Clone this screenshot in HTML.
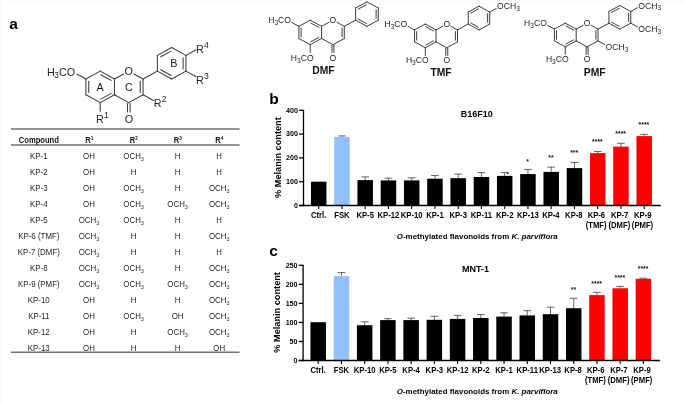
<!DOCTYPE html>
<html><head><meta charset="utf-8"><style>
html,body{margin:0;padding:0;background:#fff;}
body{width:685px;height:403px;overflow:hidden;}
svg{display:block;}
</style></head><body>
<svg width="685" height="403" viewBox="0 0 685 403" font-family="'Liberation Sans', Arial, sans-serif">
<rect width="685" height="403" fill="#fff"/>
<rect x="0" y="0" width="685" height="1" fill="#f9f9f9"/><rect x="0" y="0" width="1" height="403" fill="#f9f9f9"/>
<text x="9.30" y="29.00" font-size="15.5" font-weight="bold" fill="#000" >a</text>
<text x="269.30" y="104.40" font-size="15.5" font-weight="bold" fill="#000" >b</text>
<text x="269.30" y="256.10" font-size="15.5" font-weight="bold" fill="#000" >c</text>
<line x1="100.20" y1="71.15" x2="114.49" y2="79.03" stroke="#3c3c3c" stroke-width="1.05" fill="none" stroke-linecap="round"/>
<line x1="114.49" y1="79.03" x2="114.49" y2="94.78" stroke="#3c3c3c" stroke-width="1.05" fill="none" stroke-linecap="round"/>
<line x1="114.49" y1="94.78" x2="100.20" y2="102.65" stroke="#3c3c3c" stroke-width="1.05" fill="none" stroke-linecap="round"/>
<line x1="100.20" y1="102.65" x2="85.91" y2="94.78" stroke="#3c3c3c" stroke-width="1.05" fill="none" stroke-linecap="round"/>
<line x1="85.91" y1="94.78" x2="85.91" y2="79.03" stroke="#3c3c3c" stroke-width="1.05" fill="none" stroke-linecap="round"/>
<line x1="85.91" y1="79.03" x2="100.20" y2="71.15" stroke="#3c3c3c" stroke-width="1.05" fill="none" stroke-linecap="round"/>
<line x1="100.82" y1="74.71" x2="111.15" y2="80.41" stroke="#3c3c3c" stroke-width="1.05" fill="none" stroke-linecap="round"/>
<line x1="111.15" y1="93.39" x2="100.82" y2="99.09" stroke="#3c3c3c" stroke-width="1.05" fill="none" stroke-linecap="round"/>
<line x1="88.73" y1="92.52" x2="88.73" y2="81.28" stroke="#3c3c3c" stroke-width="1.05" fill="none" stroke-linecap="round"/>
<line x1="114.49" y1="79.03" x2="123.63" y2="73.98" stroke="#3c3c3c" stroke-width="1.05" fill="none" stroke-linecap="round"/>
<line x1="133.92" y1="73.98" x2="143.07" y2="79.03" stroke="#3c3c3c" stroke-width="1.05" fill="none" stroke-linecap="round"/>
<line x1="143.07" y1="79.03" x2="143.07" y2="94.78" stroke="#3c3c3c" stroke-width="1.05" fill="none" stroke-linecap="round"/>
<line x1="143.07" y1="94.78" x2="128.78" y2="102.65" stroke="#3c3c3c" stroke-width="1.05" fill="none" stroke-linecap="round"/>
<line x1="128.78" y1="102.65" x2="114.49" y2="94.78" stroke="#3c3c3c" stroke-width="1.05" fill="none" stroke-linecap="round"/>
<line x1="140.25" y1="81.28" x2="140.25" y2="92.52" stroke="#3c3c3c" stroke-width="1.05" fill="none" stroke-linecap="round"/>
<line x1="143.07" y1="79.03" x2="157.36" y2="71.15" stroke="#3c3c3c" stroke-width="1.05" fill="none" stroke-linecap="round"/>
<line x1="171.65" y1="47.53" x2="185.94" y2="55.40" stroke="#3c3c3c" stroke-width="1.05" fill="none" stroke-linecap="round"/>
<line x1="185.94" y1="55.40" x2="185.94" y2="71.15" stroke="#3c3c3c" stroke-width="1.05" fill="none" stroke-linecap="round"/>
<line x1="185.94" y1="71.15" x2="171.65" y2="79.03" stroke="#3c3c3c" stroke-width="1.05" fill="none" stroke-linecap="round"/>
<line x1="171.65" y1="79.03" x2="157.36" y2="71.15" stroke="#3c3c3c" stroke-width="1.05" fill="none" stroke-linecap="round"/>
<line x1="157.36" y1="71.15" x2="157.36" y2="55.40" stroke="#3c3c3c" stroke-width="1.05" fill="none" stroke-linecap="round"/>
<line x1="157.36" y1="55.40" x2="171.65" y2="47.53" stroke="#3c3c3c" stroke-width="1.05" fill="none" stroke-linecap="round"/>
<line x1="160.70" y1="56.78" x2="171.03" y2="51.09" stroke="#3c3c3c" stroke-width="1.05" fill="none" stroke-linecap="round"/>
<line x1="183.11" y1="57.66" x2="183.11" y2="68.89" stroke="#3c3c3c" stroke-width="1.05" fill="none" stroke-linecap="round"/>
<line x1="171.03" y1="75.46" x2="160.70" y2="69.77" stroke="#3c3c3c" stroke-width="1.05" fill="none" stroke-linecap="round"/>
<line x1="85.91" y1="79.03" x2="76.91" y2="74.06" stroke="#3c3c3c" stroke-width="1.05" fill="none" stroke-linecap="round"/>
<line x1="100.20" y1="102.65" x2="100.20" y2="111.25" stroke="#3c3c3c" stroke-width="1.05" fill="none" stroke-linecap="round"/>
<line x1="127.48" y1="103.55" x2="127.48" y2="111.95" stroke="#3c3c3c" stroke-width="1.05" fill="none" stroke-linecap="round"/>
<line x1="130.08" y1="103.55" x2="130.08" y2="111.95" stroke="#3c3c3c" stroke-width="1.05" fill="none" stroke-linecap="round"/>
<line x1="143.07" y1="94.78" x2="153.36" y2="100.45" stroke="#3c3c3c" stroke-width="1.05" fill="none" stroke-linecap="round"/>
<line x1="185.94" y1="55.40" x2="195.80" y2="49.97" stroke="#3c3c3c" stroke-width="1.05" fill="none" stroke-linecap="round"/>
<line x1="185.94" y1="71.15" x2="195.80" y2="76.58" stroke="#3c3c3c" stroke-width="1.05" fill="none" stroke-linecap="round"/>
<text x="46.90" y="76.00" font-size="10.8" fill="#1e1e1e">H<tspan font-size="8.21" dx="-0.4" dy="2.05">3</tspan><tspan dy="-2.05">CO</tspan></text>
<text x="96.10" y="123.00" font-size="10.8" fill="#1e1e1e">R<tspan font-size="8.64" dx="0.1" dy="-5.08">1</tspan></text>
<text x="128.78" y="75.20" font-size="10.8" text-anchor="middle" fill="#1a1a1a" >O</text>
<text x="129.00" y="123.00" font-size="10.8" text-anchor="middle" fill="#1a1a1a" >O</text>
<text x="153.80" y="107.20" font-size="10.8" fill="#1e1e1e">R<tspan font-size="8.64" dx="0.1" dy="-5.08">2</tspan></text>
<text x="196.10" y="52.90" font-size="10.8" fill="#1e1e1e">R<tspan font-size="8.64" dx="0.1" dy="-5.08">4</tspan></text>
<text x="196.10" y="84.20" font-size="10.8" fill="#1e1e1e">R<tspan font-size="8.64" dx="0.1" dy="-5.08">3</tspan></text>
<text x="100.10" y="90.90" font-size="10.8" text-anchor="middle" fill="#1a1a1a" >A</text>
<text x="129.00" y="90.90" font-size="10.8" text-anchor="middle" fill="#1a1a1a" >C</text>
<text x="173.90" y="67.20" font-size="10.8" text-anchor="middle" fill="#1a1a1a" >B</text>
<line x1="11.00" y1="129.00" x2="239.50" y2="129.00" stroke="#707070" stroke-width="1.5"/>
<line x1="11.00" y1="144.90" x2="239.50" y2="144.90" stroke="#707070" stroke-width="1.5"/>
<line x1="11.00" y1="352.30" x2="239.50" y2="352.30" stroke="#707070" stroke-width="1.5"/>
<text transform="translate(38.80,142.60) scale(1.0,1.1)" font-size="7.6" font-weight="bold" text-anchor="middle" fill="#111" >Compound</text>
<text transform="translate(89.20,142.6) scale(1,1.1)" font-size="7.6" font-weight="bold" text-anchor="middle" fill="#111">R<tspan font-size="4.71" dy="-2.3">1</tspan></text>
<text transform="translate(133.80,142.6) scale(1,1.1)" font-size="7.6" font-weight="bold" text-anchor="middle" fill="#111">R<tspan font-size="4.71" dy="-2.3">2</tspan></text>
<text transform="translate(177.80,142.6) scale(1,1.1)" font-size="7.6" font-weight="bold" text-anchor="middle" fill="#111">R<tspan font-size="4.71" dy="-2.3">3</tspan></text>
<text transform="translate(219.40,142.6) scale(1,1.1)" font-size="7.6" font-weight="bold" text-anchor="middle" fill="#111">R<tspan font-size="4.71" dy="-2.3">4</tspan></text>
<text transform="translate(38.80,159.10) scale(1.0,1.12)" font-size="7.9" text-anchor="middle" fill="#1e1e1e" >KP-1</text>
<text transform="translate(89.00,159.10) scale(1.0,1.12)" font-size="7.9" text-anchor="middle" fill="#1e1e1e" >OH</text>
<text transform="translate(133.60,159.10) scale(1,1.12)" font-size="7.9" text-anchor="middle" fill="#1e1e1e">OCH<tspan font-size="5.53" dy="1.8">3</tspan></text>
<text transform="translate(177.60,159.10) scale(1.0,1.12)" font-size="7.9" text-anchor="middle" fill="#1e1e1e" >H</text>
<text transform="translate(219.20,159.10) scale(1.0,1.12)" font-size="7.9" text-anchor="middle" fill="#1e1e1e" >H</text>
<text transform="translate(38.80,175.07) scale(1.0,1.12)" font-size="7.9" text-anchor="middle" fill="#1e1e1e" >KP-2</text>
<text transform="translate(89.00,175.07) scale(1.0,1.12)" font-size="7.9" text-anchor="middle" fill="#1e1e1e" >OH</text>
<text transform="translate(133.60,175.07) scale(1.0,1.12)" font-size="7.9" text-anchor="middle" fill="#1e1e1e" >H</text>
<text transform="translate(177.60,175.07) scale(1.0,1.12)" font-size="7.9" text-anchor="middle" fill="#1e1e1e" >H</text>
<text transform="translate(219.20,175.07) scale(1.0,1.12)" font-size="7.9" text-anchor="middle" fill="#1e1e1e" >H</text>
<text transform="translate(38.80,191.04) scale(1.0,1.12)" font-size="7.9" text-anchor="middle" fill="#1e1e1e" >KP-3</text>
<text transform="translate(89.00,191.04) scale(1.0,1.12)" font-size="7.9" text-anchor="middle" fill="#1e1e1e" >OH</text>
<text transform="translate(133.60,191.04) scale(1,1.12)" font-size="7.9" text-anchor="middle" fill="#1e1e1e">OCH<tspan font-size="5.53" dy="1.8">3</tspan></text>
<text transform="translate(177.60,191.04) scale(1.0,1.12)" font-size="7.9" text-anchor="middle" fill="#1e1e1e" >H</text>
<text transform="translate(219.20,191.04) scale(1,1.12)" font-size="7.9" text-anchor="middle" fill="#1e1e1e">OCH<tspan font-size="5.53" dy="1.8">3</tspan></text>
<text transform="translate(38.80,207.01) scale(1.0,1.12)" font-size="7.9" text-anchor="middle" fill="#1e1e1e" >KP-4</text>
<text transform="translate(89.00,207.01) scale(1.0,1.12)" font-size="7.9" text-anchor="middle" fill="#1e1e1e" >OH</text>
<text transform="translate(133.60,207.01) scale(1,1.12)" font-size="7.9" text-anchor="middle" fill="#1e1e1e">OCH<tspan font-size="5.53" dy="1.8">3</tspan></text>
<text transform="translate(177.60,207.01) scale(1,1.12)" font-size="7.9" text-anchor="middle" fill="#1e1e1e">OCH<tspan font-size="5.53" dy="1.8">3</tspan></text>
<text transform="translate(219.20,207.01) scale(1,1.12)" font-size="7.9" text-anchor="middle" fill="#1e1e1e">OCH<tspan font-size="5.53" dy="1.8">3</tspan></text>
<text transform="translate(38.80,222.98) scale(1.0,1.12)" font-size="7.9" text-anchor="middle" fill="#1e1e1e" >KP-5</text>
<text transform="translate(89.00,222.98) scale(1,1.12)" font-size="7.9" text-anchor="middle" fill="#1e1e1e">OCH<tspan font-size="5.53" dy="1.8">3</tspan></text>
<text transform="translate(133.60,222.98) scale(1,1.12)" font-size="7.9" text-anchor="middle" fill="#1e1e1e">OCH<tspan font-size="5.53" dy="1.8">3</tspan></text>
<text transform="translate(177.60,222.98) scale(1.0,1.12)" font-size="7.9" text-anchor="middle" fill="#1e1e1e" >H</text>
<text transform="translate(219.20,222.98) scale(1.0,1.12)" font-size="7.9" text-anchor="middle" fill="#1e1e1e" >H</text>
<text transform="translate(38.80,238.95) scale(1.0,1.12)" font-size="7.9" text-anchor="middle" fill="#1e1e1e" >KP-6 (TMF)</text>
<text transform="translate(89.00,238.95) scale(1,1.12)" font-size="7.9" text-anchor="middle" fill="#1e1e1e">OCH<tspan font-size="5.53" dy="1.8">3</tspan></text>
<text transform="translate(133.60,238.95) scale(1.0,1.12)" font-size="7.9" text-anchor="middle" fill="#1e1e1e" >H</text>
<text transform="translate(177.60,238.95) scale(1.0,1.12)" font-size="7.9" text-anchor="middle" fill="#1e1e1e" >H</text>
<text transform="translate(219.20,238.95) scale(1,1.12)" font-size="7.9" text-anchor="middle" fill="#1e1e1e">OCH<tspan font-size="5.53" dy="1.8">3</tspan></text>
<text transform="translate(38.80,254.92) scale(1.0,1.12)" font-size="7.9" text-anchor="middle" fill="#1e1e1e" >KP-7 (DMF)</text>
<text transform="translate(89.00,254.92) scale(1,1.12)" font-size="7.9" text-anchor="middle" fill="#1e1e1e">OCH<tspan font-size="5.53" dy="1.8">3</tspan></text>
<text transform="translate(133.60,254.92) scale(1.0,1.12)" font-size="7.9" text-anchor="middle" fill="#1e1e1e" >H</text>
<text transform="translate(177.60,254.92) scale(1.0,1.12)" font-size="7.9" text-anchor="middle" fill="#1e1e1e" >H</text>
<text transform="translate(219.20,254.92) scale(1.0,1.12)" font-size="7.9" text-anchor="middle" fill="#1e1e1e" >H</text>
<text transform="translate(38.80,270.89) scale(1.0,1.12)" font-size="7.9" text-anchor="middle" fill="#1e1e1e" >KP-8</text>
<text transform="translate(89.00,270.89) scale(1,1.12)" font-size="7.9" text-anchor="middle" fill="#1e1e1e">OCH<tspan font-size="5.53" dy="1.8">3</tspan></text>
<text transform="translate(133.60,270.89) scale(1,1.12)" font-size="7.9" text-anchor="middle" fill="#1e1e1e">OCH<tspan font-size="5.53" dy="1.8">3</tspan></text>
<text transform="translate(177.60,270.89) scale(1.0,1.12)" font-size="7.9" text-anchor="middle" fill="#1e1e1e" >H</text>
<text transform="translate(219.20,270.89) scale(1,1.12)" font-size="7.9" text-anchor="middle" fill="#1e1e1e">OCH<tspan font-size="5.53" dy="1.8">3</tspan></text>
<text transform="translate(38.80,286.86) scale(1.0,1.12)" font-size="7.9" text-anchor="middle" fill="#1e1e1e" >KP-9 (PMF)</text>
<text transform="translate(89.00,286.86) scale(1,1.12)" font-size="7.9" text-anchor="middle" fill="#1e1e1e">OCH<tspan font-size="5.53" dy="1.8">3</tspan></text>
<text transform="translate(133.60,286.86) scale(1,1.12)" font-size="7.9" text-anchor="middle" fill="#1e1e1e">OCH<tspan font-size="5.53" dy="1.8">3</tspan></text>
<text transform="translate(177.60,286.86) scale(1,1.12)" font-size="7.9" text-anchor="middle" fill="#1e1e1e">OCH<tspan font-size="5.53" dy="1.8">3</tspan></text>
<text transform="translate(219.20,286.86) scale(1,1.12)" font-size="7.9" text-anchor="middle" fill="#1e1e1e">OCH<tspan font-size="5.53" dy="1.8">3</tspan></text>
<text transform="translate(38.80,302.83) scale(1.0,1.12)" font-size="7.9" text-anchor="middle" fill="#1e1e1e" >KP-10</text>
<text transform="translate(89.00,302.83) scale(1.0,1.12)" font-size="7.9" text-anchor="middle" fill="#1e1e1e" >OH</text>
<text transform="translate(133.60,302.83) scale(1.0,1.12)" font-size="7.9" text-anchor="middle" fill="#1e1e1e" >H</text>
<text transform="translate(177.60,302.83) scale(1.0,1.12)" font-size="7.9" text-anchor="middle" fill="#1e1e1e" >H</text>
<text transform="translate(219.20,302.83) scale(1,1.12)" font-size="7.9" text-anchor="middle" fill="#1e1e1e">OCH<tspan font-size="5.53" dy="1.8">3</tspan></text>
<text transform="translate(38.80,318.80) scale(1.0,1.12)" font-size="7.9" text-anchor="middle" fill="#1e1e1e" >KP-11</text>
<text transform="translate(89.00,318.80) scale(1.0,1.12)" font-size="7.9" text-anchor="middle" fill="#1e1e1e" >OH</text>
<text transform="translate(133.60,318.80) scale(1,1.12)" font-size="7.9" text-anchor="middle" fill="#1e1e1e">OCH<tspan font-size="5.53" dy="1.8">3</tspan></text>
<text transform="translate(177.60,318.80) scale(1.0,1.12)" font-size="7.9" text-anchor="middle" fill="#1e1e1e" >OH</text>
<text transform="translate(219.20,318.80) scale(1,1.12)" font-size="7.9" text-anchor="middle" fill="#1e1e1e">OCH<tspan font-size="5.53" dy="1.8">3</tspan></text>
<text transform="translate(38.80,334.77) scale(1.0,1.12)" font-size="7.9" text-anchor="middle" fill="#1e1e1e" >KP-12</text>
<text transform="translate(89.00,334.77) scale(1.0,1.12)" font-size="7.9" text-anchor="middle" fill="#1e1e1e" >OH</text>
<text transform="translate(133.60,334.77) scale(1.0,1.12)" font-size="7.9" text-anchor="middle" fill="#1e1e1e" >H</text>
<text transform="translate(177.60,334.77) scale(1,1.12)" font-size="7.9" text-anchor="middle" fill="#1e1e1e">OCH<tspan font-size="5.53" dy="1.8">3</tspan></text>
<text transform="translate(219.20,334.77) scale(1,1.12)" font-size="7.9" text-anchor="middle" fill="#1e1e1e">OCH<tspan font-size="5.53" dy="1.8">3</tspan></text>
<text transform="translate(38.80,350.74) scale(1.0,1.12)" font-size="7.9" text-anchor="middle" fill="#1e1e1e" >KP-13</text>
<text transform="translate(89.00,350.74) scale(1.0,1.12)" font-size="7.9" text-anchor="middle" fill="#1e1e1e" >OH</text>
<text transform="translate(133.60,350.74) scale(1.0,1.12)" font-size="7.9" text-anchor="middle" fill="#1e1e1e" >H</text>
<text transform="translate(177.60,350.74) scale(1.0,1.12)" font-size="7.9" text-anchor="middle" fill="#1e1e1e" >H</text>
<text transform="translate(219.20,350.74) scale(1.0,1.12)" font-size="7.9" text-anchor="middle" fill="#1e1e1e" >OH</text>
<line x1="310.25" y1="20.20" x2="321.59" y2="26.30" stroke="#3c3c3c" stroke-width="1.0" fill="none" stroke-linecap="round"/>
<line x1="321.59" y1="26.30" x2="321.59" y2="38.50" stroke="#3c3c3c" stroke-width="1.0" fill="none" stroke-linecap="round"/>
<line x1="321.59" y1="38.50" x2="310.25" y2="44.60" stroke="#3c3c3c" stroke-width="1.0" fill="none" stroke-linecap="round"/>
<line x1="310.25" y1="44.60" x2="298.91" y2="38.50" stroke="#3c3c3c" stroke-width="1.0" fill="none" stroke-linecap="round"/>
<line x1="298.91" y1="38.50" x2="298.91" y2="26.30" stroke="#3c3c3c" stroke-width="1.0" fill="none" stroke-linecap="round"/>
<line x1="298.91" y1="26.30" x2="310.25" y2="20.20" stroke="#3c3c3c" stroke-width="1.0" fill="none" stroke-linecap="round"/>
<line x1="310.76" y1="22.99" x2="318.99" y2="27.41" stroke="#3c3c3c" stroke-width="1.0" fill="none" stroke-linecap="round"/>
<line x1="318.99" y1="37.39" x2="310.76" y2="41.81" stroke="#3c3c3c" stroke-width="1.0" fill="none" stroke-linecap="round"/>
<line x1="301.12" y1="36.73" x2="301.12" y2="28.07" stroke="#3c3c3c" stroke-width="1.0" fill="none" stroke-linecap="round"/>
<line x1="321.59" y1="26.30" x2="328.86" y2="22.40" stroke="#3c3c3c" stroke-width="1.0" fill="none" stroke-linecap="round"/>
<line x1="337.02" y1="22.40" x2="344.28" y2="26.30" stroke="#3c3c3c" stroke-width="1.0" fill="none" stroke-linecap="round"/>
<line x1="344.28" y1="26.30" x2="344.28" y2="38.50" stroke="#3c3c3c" stroke-width="1.0" fill="none" stroke-linecap="round"/>
<line x1="344.28" y1="38.50" x2="332.94" y2="44.60" stroke="#3c3c3c" stroke-width="1.0" fill="none" stroke-linecap="round"/>
<line x1="332.94" y1="44.60" x2="321.59" y2="38.50" stroke="#3c3c3c" stroke-width="1.0" fill="none" stroke-linecap="round"/>
<line x1="342.07" y1="28.07" x2="342.07" y2="36.73" stroke="#3c3c3c" stroke-width="1.0" fill="none" stroke-linecap="round"/>
<line x1="344.28" y1="26.30" x2="355.63" y2="20.20" stroke="#3c3c3c" stroke-width="1.0" fill="none" stroke-linecap="round"/>
<line x1="366.97" y1="1.90" x2="378.32" y2="8.00" stroke="#3c3c3c" stroke-width="1.0" fill="none" stroke-linecap="round"/>
<line x1="378.32" y1="8.00" x2="378.32" y2="20.20" stroke="#3c3c3c" stroke-width="1.0" fill="none" stroke-linecap="round"/>
<line x1="378.32" y1="20.20" x2="366.97" y2="26.30" stroke="#3c3c3c" stroke-width="1.0" fill="none" stroke-linecap="round"/>
<line x1="366.97" y1="26.30" x2="355.63" y2="20.20" stroke="#3c3c3c" stroke-width="1.0" fill="none" stroke-linecap="round"/>
<line x1="355.63" y1="20.20" x2="355.63" y2="8.00" stroke="#3c3c3c" stroke-width="1.0" fill="none" stroke-linecap="round"/>
<line x1="355.63" y1="8.00" x2="366.97" y2="1.90" stroke="#3c3c3c" stroke-width="1.0" fill="none" stroke-linecap="round"/>
<line x1="358.24" y1="9.11" x2="366.46" y2="4.69" stroke="#3c3c3c" stroke-width="1.0" fill="none" stroke-linecap="round"/>
<line x1="376.11" y1="9.77" x2="376.11" y2="18.43" stroke="#3c3c3c" stroke-width="1.0" fill="none" stroke-linecap="round"/>
<line x1="366.46" y1="23.51" x2="358.24" y2="19.09" stroke="#3c3c3c" stroke-width="1.0" fill="none" stroke-linecap="round"/>
<line x1="298.91" y1="26.30" x2="291.87" y2="22.52" stroke="#3c3c3c" stroke-width="1.0" fill="none" stroke-linecap="round"/>
<text x="290.91" y="23.28" font-size="8.6" text-anchor="end" fill="#1e1e1e">H<tspan font-size="6.54" dy="1.63">3</tspan><tspan dy="-1.63">CO</tspan></text>
<line x1="310.25" y1="44.60" x2="310.25" y2="52.41" stroke="#3c3c3c" stroke-width="1.0" fill="none" stroke-linecap="round"/>
<text x="313.60" y="60.88" font-size="8.6" text-anchor="end" fill="#1e1e1e">H<tspan font-size="6.54" dy="1.63">3</tspan><tspan dy="-1.63">CO</tspan></text>
<line x1="331.94" y1="45.20" x2="331.94" y2="52.41" stroke="#3c3c3c" stroke-width="1.0" fill="none" stroke-linecap="round"/>
<line x1="333.94" y1="45.20" x2="333.94" y2="52.41" stroke="#3c3c3c" stroke-width="1.0" fill="none" stroke-linecap="round"/>
<text x="332.94" y="60.88" font-size="8.6" text-anchor="middle" fill="#1a1a1a" >O</text>
<text x="332.94" y="23.28" font-size="8.6" text-anchor="middle" fill="#1a1a1a" >O</text>
<line x1="425.30" y1="24.00" x2="436.04" y2="29.95" stroke="#3c3c3c" stroke-width="1.0" fill="none" stroke-linecap="round"/>
<line x1="436.04" y1="29.95" x2="436.04" y2="41.85" stroke="#3c3c3c" stroke-width="1.0" fill="none" stroke-linecap="round"/>
<line x1="436.04" y1="41.85" x2="425.30" y2="47.80" stroke="#3c3c3c" stroke-width="1.0" fill="none" stroke-linecap="round"/>
<line x1="425.30" y1="47.80" x2="414.56" y2="41.85" stroke="#3c3c3c" stroke-width="1.0" fill="none" stroke-linecap="round"/>
<line x1="414.56" y1="41.85" x2="414.56" y2="29.95" stroke="#3c3c3c" stroke-width="1.0" fill="none" stroke-linecap="round"/>
<line x1="414.56" y1="29.95" x2="425.30" y2="24.00" stroke="#3c3c3c" stroke-width="1.0" fill="none" stroke-linecap="round"/>
<line x1="425.76" y1="26.68" x2="433.52" y2="30.99" stroke="#3c3c3c" stroke-width="1.0" fill="none" stroke-linecap="round"/>
<line x1="433.52" y1="40.81" x2="425.76" y2="45.12" stroke="#3c3c3c" stroke-width="1.0" fill="none" stroke-linecap="round"/>
<line x1="416.69" y1="40.15" x2="416.69" y2="31.65" stroke="#3c3c3c" stroke-width="1.0" fill="none" stroke-linecap="round"/>
<line x1="436.04" y1="29.95" x2="442.91" y2="26.14" stroke="#3c3c3c" stroke-width="1.0" fill="none" stroke-linecap="round"/>
<line x1="450.64" y1="26.14" x2="457.52" y2="29.95" stroke="#3c3c3c" stroke-width="1.0" fill="none" stroke-linecap="round"/>
<line x1="457.52" y1="29.95" x2="457.52" y2="41.85" stroke="#3c3c3c" stroke-width="1.0" fill="none" stroke-linecap="round"/>
<line x1="457.52" y1="41.85" x2="446.78" y2="47.80" stroke="#3c3c3c" stroke-width="1.0" fill="none" stroke-linecap="round"/>
<line x1="446.78" y1="47.80" x2="436.04" y2="41.85" stroke="#3c3c3c" stroke-width="1.0" fill="none" stroke-linecap="round"/>
<line x1="455.39" y1="31.65" x2="455.39" y2="40.15" stroke="#3c3c3c" stroke-width="1.0" fill="none" stroke-linecap="round"/>
<line x1="457.52" y1="29.95" x2="468.25" y2="24.00" stroke="#3c3c3c" stroke-width="1.0" fill="none" stroke-linecap="round"/>
<line x1="478.99" y1="6.15" x2="489.73" y2="12.10" stroke="#3c3c3c" stroke-width="1.0" fill="none" stroke-linecap="round"/>
<line x1="489.73" y1="12.10" x2="489.73" y2="24.00" stroke="#3c3c3c" stroke-width="1.0" fill="none" stroke-linecap="round"/>
<line x1="489.73" y1="24.00" x2="478.99" y2="29.95" stroke="#3c3c3c" stroke-width="1.0" fill="none" stroke-linecap="round"/>
<line x1="478.99" y1="29.95" x2="468.25" y2="24.00" stroke="#3c3c3c" stroke-width="1.0" fill="none" stroke-linecap="round"/>
<line x1="468.25" y1="24.00" x2="468.25" y2="12.10" stroke="#3c3c3c" stroke-width="1.0" fill="none" stroke-linecap="round"/>
<line x1="468.25" y1="12.10" x2="478.99" y2="6.15" stroke="#3c3c3c" stroke-width="1.0" fill="none" stroke-linecap="round"/>
<line x1="470.77" y1="13.14" x2="478.54" y2="8.83" stroke="#3c3c3c" stroke-width="1.0" fill="none" stroke-linecap="round"/>
<line x1="487.61" y1="13.80" x2="487.61" y2="22.30" stroke="#3c3c3c" stroke-width="1.0" fill="none" stroke-linecap="round"/>
<line x1="478.54" y1="27.27" x2="470.77" y2="22.96" stroke="#3c3c3c" stroke-width="1.0" fill="none" stroke-linecap="round"/>
<line x1="414.56" y1="29.95" x2="407.90" y2="26.26" stroke="#3c3c3c" stroke-width="1.0" fill="none" stroke-linecap="round"/>
<text x="407.18" y="27.08" font-size="8.6" text-anchor="end" fill="#1e1e1e">H<tspan font-size="6.54" dy="1.63">3</tspan><tspan dy="-1.63">CO</tspan></text>
<line x1="425.30" y1="47.80" x2="425.30" y2="55.42" stroke="#3c3c3c" stroke-width="1.0" fill="none" stroke-linecap="round"/>
<text x="428.65" y="63.28" font-size="8.6" text-anchor="end" fill="#1e1e1e">H<tspan font-size="6.54" dy="1.63">3</tspan><tspan dy="-1.63">CO</tspan></text>
<line x1="445.78" y1="48.40" x2="445.78" y2="55.42" stroke="#3c3c3c" stroke-width="1.0" fill="none" stroke-linecap="round"/>
<line x1="447.78" y1="48.40" x2="447.78" y2="55.42" stroke="#3c3c3c" stroke-width="1.0" fill="none" stroke-linecap="round"/>
<text x="446.78" y="63.28" font-size="8.6" text-anchor="middle" fill="#1a1a1a" >O</text>
<text x="446.78" y="27.08" font-size="8.6" text-anchor="middle" fill="#1a1a1a" >O</text>
<line x1="489.73" y1="12.10" x2="496.39" y2="8.41" stroke="#3c3c3c" stroke-width="1.0" fill="none" stroke-linecap="round"/>
<text x="497.12" y="9.23" font-size="8.6" fill="#1e1e1e">OCH<tspan font-size="6.54" dy="1.63">3</tspan></text>
<line x1="565.30" y1="23.20" x2="576.21" y2="29.10" stroke="#3c3c3c" stroke-width="1.0" fill="none" stroke-linecap="round"/>
<line x1="576.21" y1="29.10" x2="576.21" y2="40.90" stroke="#3c3c3c" stroke-width="1.0" fill="none" stroke-linecap="round"/>
<line x1="576.21" y1="40.90" x2="565.30" y2="46.80" stroke="#3c3c3c" stroke-width="1.0" fill="none" stroke-linecap="round"/>
<line x1="565.30" y1="46.80" x2="554.39" y2="40.90" stroke="#3c3c3c" stroke-width="1.0" fill="none" stroke-linecap="round"/>
<line x1="554.39" y1="40.90" x2="554.39" y2="29.10" stroke="#3c3c3c" stroke-width="1.0" fill="none" stroke-linecap="round"/>
<line x1="554.39" y1="29.10" x2="565.30" y2="23.20" stroke="#3c3c3c" stroke-width="1.0" fill="none" stroke-linecap="round"/>
<line x1="565.79" y1="25.89" x2="573.69" y2="30.17" stroke="#3c3c3c" stroke-width="1.0" fill="none" stroke-linecap="round"/>
<line x1="573.69" y1="39.83" x2="565.79" y2="44.11" stroke="#3c3c3c" stroke-width="1.0" fill="none" stroke-linecap="round"/>
<line x1="556.52" y1="39.19" x2="556.52" y2="30.81" stroke="#3c3c3c" stroke-width="1.0" fill="none" stroke-linecap="round"/>
<line x1="576.21" y1="29.10" x2="583.20" y2="25.32" stroke="#3c3c3c" stroke-width="1.0" fill="none" stroke-linecap="round"/>
<line x1="591.05" y1="25.32" x2="598.04" y2="29.10" stroke="#3c3c3c" stroke-width="1.0" fill="none" stroke-linecap="round"/>
<line x1="598.04" y1="29.10" x2="598.04" y2="40.90" stroke="#3c3c3c" stroke-width="1.0" fill="none" stroke-linecap="round"/>
<line x1="598.04" y1="40.90" x2="587.12" y2="46.80" stroke="#3c3c3c" stroke-width="1.0" fill="none" stroke-linecap="round"/>
<line x1="587.12" y1="46.80" x2="576.21" y2="40.90" stroke="#3c3c3c" stroke-width="1.0" fill="none" stroke-linecap="round"/>
<line x1="595.90" y1="30.81" x2="595.90" y2="39.19" stroke="#3c3c3c" stroke-width="1.0" fill="none" stroke-linecap="round"/>
<line x1="598.04" y1="29.10" x2="608.95" y2="23.20" stroke="#3c3c3c" stroke-width="1.0" fill="none" stroke-linecap="round"/>
<line x1="619.86" y1="5.50" x2="630.77" y2="11.40" stroke="#3c3c3c" stroke-width="1.0" fill="none" stroke-linecap="round"/>
<line x1="630.77" y1="11.40" x2="630.77" y2="23.20" stroke="#3c3c3c" stroke-width="1.0" fill="none" stroke-linecap="round"/>
<line x1="630.77" y1="23.20" x2="619.86" y2="29.10" stroke="#3c3c3c" stroke-width="1.0" fill="none" stroke-linecap="round"/>
<line x1="619.86" y1="29.10" x2="608.95" y2="23.20" stroke="#3c3c3c" stroke-width="1.0" fill="none" stroke-linecap="round"/>
<line x1="608.95" y1="23.20" x2="608.95" y2="11.40" stroke="#3c3c3c" stroke-width="1.0" fill="none" stroke-linecap="round"/>
<line x1="608.95" y1="11.40" x2="619.86" y2="5.50" stroke="#3c3c3c" stroke-width="1.0" fill="none" stroke-linecap="round"/>
<line x1="611.47" y1="12.47" x2="619.37" y2="8.19" stroke="#3c3c3c" stroke-width="1.0" fill="none" stroke-linecap="round"/>
<line x1="628.64" y1="13.11" x2="628.64" y2="21.49" stroke="#3c3c3c" stroke-width="1.0" fill="none" stroke-linecap="round"/>
<line x1="619.37" y1="26.41" x2="611.47" y2="22.13" stroke="#3c3c3c" stroke-width="1.0" fill="none" stroke-linecap="round"/>
<line x1="554.39" y1="29.10" x2="547.62" y2="25.44" stroke="#3c3c3c" stroke-width="1.0" fill="none" stroke-linecap="round"/>
<text x="546.83" y="26.28" font-size="8.6" text-anchor="end" fill="#1e1e1e">H<tspan font-size="6.54" dy="1.63">3</tspan><tspan dy="-1.63">CO</tspan></text>
<line x1="565.30" y1="46.80" x2="565.30" y2="54.35" stroke="#3c3c3c" stroke-width="1.0" fill="none" stroke-linecap="round"/>
<text x="568.65" y="61.88" font-size="8.6" text-anchor="end" fill="#1e1e1e">H<tspan font-size="6.54" dy="1.63">3</tspan><tspan dy="-1.63">CO</tspan></text>
<line x1="586.12" y1="47.40" x2="586.12" y2="54.35" stroke="#3c3c3c" stroke-width="1.0" fill="none" stroke-linecap="round"/>
<line x1="588.12" y1="47.40" x2="588.12" y2="54.35" stroke="#3c3c3c" stroke-width="1.0" fill="none" stroke-linecap="round"/>
<text x="587.12" y="61.88" font-size="8.6" text-anchor="middle" fill="#1a1a1a" >O</text>
<text x="587.12" y="26.28" font-size="8.6" text-anchor="middle" fill="#1a1a1a" >O</text>
<line x1="630.77" y1="11.40" x2="637.54" y2="7.74" stroke="#3c3c3c" stroke-width="1.0" fill="none" stroke-linecap="round"/>
<text x="638.33" y="8.58" font-size="8.6" fill="#1e1e1e">OCH<tspan font-size="6.54" dy="1.63">3</tspan></text>
<line x1="630.77" y1="23.20" x2="637.54" y2="26.86" stroke="#3c3c3c" stroke-width="1.0" fill="none" stroke-linecap="round"/>
<text x="638.33" y="32.18" font-size="8.6" fill="#1e1e1e">OCH<tspan font-size="6.54" dy="1.63">3</tspan></text>
<line x1="598.04" y1="40.90" x2="604.80" y2="44.56" stroke="#3c3c3c" stroke-width="1.0" fill="none" stroke-linecap="round"/>
<text x="605.59" y="49.88" font-size="8.6" fill="#1e1e1e">OCH<tspan font-size="6.54" dy="1.63">3</tspan></text>
<text x="323.50" y="74.40" font-size="10.3" font-weight="bold" text-anchor="middle" fill="#111" >DMF</text>
<text x="441.00" y="75.60" font-size="10.3" font-weight="bold" text-anchor="middle" fill="#111" >TMF</text>
<text x="594.70" y="75.80" font-size="10.3" font-weight="bold" text-anchor="middle" fill="#111" >PMF</text>
<rect x="310.95" y="181.70" width="15.5" height="23.80" fill="#000"/>
<line x1="341.95" y1="136.90" x2="341.95" y2="135.90" stroke="#4a4a4a" stroke-width="0.85"/>
<line x1="338.15" y1="135.90" x2="345.75" y2="135.90" stroke="#4a4a4a" stroke-width="0.85"/>
<rect x="334.20" y="136.90" width="15.5" height="68.60" fill="#91c0fa"/>
<line x1="365.20" y1="180.10" x2="365.20" y2="176.90" stroke="#4a4a4a" stroke-width="0.85"/>
<line x1="361.40" y1="176.90" x2="369.00" y2="176.90" stroke="#4a4a4a" stroke-width="0.85"/>
<rect x="357.45" y="180.10" width="15.5" height="25.40" fill="#000"/>
<line x1="388.45" y1="180.40" x2="388.45" y2="178.20" stroke="#4a4a4a" stroke-width="0.85"/>
<line x1="384.65" y1="178.20" x2="392.25" y2="178.20" stroke="#4a4a4a" stroke-width="0.85"/>
<rect x="380.70" y="180.40" width="15.5" height="25.10" fill="#000"/>
<line x1="411.70" y1="180.40" x2="411.70" y2="177.80" stroke="#4a4a4a" stroke-width="0.85"/>
<line x1="407.90" y1="177.80" x2="415.50" y2="177.80" stroke="#4a4a4a" stroke-width="0.85"/>
<rect x="403.95" y="180.40" width="15.5" height="25.10" fill="#000"/>
<line x1="434.95" y1="178.70" x2="434.95" y2="175.50" stroke="#4a4a4a" stroke-width="0.85"/>
<line x1="431.15" y1="175.50" x2="438.75" y2="175.50" stroke="#4a4a4a" stroke-width="0.85"/>
<rect x="427.20" y="178.70" width="15.5" height="26.80" fill="#000"/>
<line x1="458.20" y1="178.20" x2="458.20" y2="174.10" stroke="#4a4a4a" stroke-width="0.85"/>
<line x1="454.40" y1="174.10" x2="462.00" y2="174.10" stroke="#4a4a4a" stroke-width="0.85"/>
<rect x="450.45" y="178.20" width="15.5" height="27.30" fill="#000"/>
<line x1="481.45" y1="177.00" x2="481.45" y2="172.60" stroke="#4a4a4a" stroke-width="0.85"/>
<line x1="477.65" y1="172.60" x2="485.25" y2="172.60" stroke="#4a4a4a" stroke-width="0.85"/>
<rect x="473.70" y="177.00" width="15.5" height="28.50" fill="#000"/>
<line x1="504.70" y1="175.90" x2="504.70" y2="172.40" stroke="#4a4a4a" stroke-width="0.85"/>
<line x1="500.90" y1="172.40" x2="508.50" y2="172.40" stroke="#4a4a4a" stroke-width="0.85"/>
<rect x="496.95" y="175.90" width="15.5" height="29.60" fill="#000"/>
<line x1="527.95" y1="174.10" x2="527.95" y2="169.40" stroke="#4a4a4a" stroke-width="0.85"/>
<line x1="524.15" y1="169.40" x2="531.75" y2="169.40" stroke="#4a4a4a" stroke-width="0.85"/>
<rect x="520.20" y="174.10" width="15.5" height="31.40" fill="#000"/>
<line x1="551.20" y1="171.90" x2="551.20" y2="167.10" stroke="#4a4a4a" stroke-width="0.85"/>
<line x1="547.40" y1="167.10" x2="555.00" y2="167.10" stroke="#4a4a4a" stroke-width="0.85"/>
<rect x="543.45" y="171.90" width="15.5" height="33.60" fill="#000"/>
<line x1="574.45" y1="168.10" x2="574.45" y2="162.50" stroke="#4a4a4a" stroke-width="0.85"/>
<line x1="570.65" y1="162.50" x2="578.25" y2="162.50" stroke="#4a4a4a" stroke-width="0.85"/>
<rect x="566.70" y="168.10" width="15.5" height="37.40" fill="#000"/>
<line x1="597.70" y1="153.10" x2="597.70" y2="151.50" stroke="#4a4a4a" stroke-width="0.85"/>
<line x1="593.90" y1="151.50" x2="601.50" y2="151.50" stroke="#4a4a4a" stroke-width="0.85"/>
<rect x="589.95" y="153.10" width="15.5" height="52.40" fill="#ff0000"/>
<line x1="620.95" y1="146.60" x2="620.95" y2="143.30" stroke="#4a4a4a" stroke-width="0.85"/>
<line x1="617.15" y1="143.30" x2="624.75" y2="143.30" stroke="#4a4a4a" stroke-width="0.85"/>
<rect x="613.20" y="146.60" width="15.5" height="58.90" fill="#ff0000"/>
<line x1="644.20" y1="136.10" x2="644.20" y2="134.30" stroke="#4a4a4a" stroke-width="0.85"/>
<line x1="640.40" y1="134.30" x2="648.00" y2="134.30" stroke="#4a4a4a" stroke-width="0.85"/>
<rect x="636.45" y="136.10" width="15.5" height="69.40" fill="#ff0000"/>
<line x1="303.50" y1="206.15" x2="303.50" y2="109.76" stroke="#000" stroke-width="1.3"/>
<line x1="299.10" y1="205.50" x2="660.70" y2="205.50" stroke="#000" stroke-width="1.3"/>
<line x1="299.10" y1="205.50" x2="303.50" y2="205.50" stroke="#000" stroke-width="1.3"/>
<text x="297.90" y="207.80" font-size="7.1" font-weight="bold" text-anchor="end" fill="#000" >0</text>
<line x1="299.10" y1="181.69" x2="303.50" y2="181.69" stroke="#000" stroke-width="1.3"/>
<text x="297.90" y="183.99" font-size="7.1" font-weight="bold" text-anchor="end" fill="#000" >100</text>
<line x1="299.10" y1="157.88" x2="303.50" y2="157.88" stroke="#000" stroke-width="1.3"/>
<text x="297.90" y="160.18" font-size="7.1" font-weight="bold" text-anchor="end" fill="#000" >200</text>
<line x1="299.10" y1="134.07" x2="303.50" y2="134.07" stroke="#000" stroke-width="1.3"/>
<text x="297.90" y="136.37" font-size="7.1" font-weight="bold" text-anchor="end" fill="#000" >300</text>
<line x1="299.10" y1="110.26" x2="303.50" y2="110.26" stroke="#000" stroke-width="1.3"/>
<text x="297.90" y="112.56" font-size="7.1" font-weight="bold" text-anchor="end" fill="#000" >400</text>
<line x1="318.70" y1="205.50" x2="318.70" y2="209.10" stroke="#000" stroke-width="1.1"/>
<text transform="translate(318.70,217.90) scale(1.0,1.12)" font-size="7.7" font-weight="bold" text-anchor="middle" fill="#000" >Ctrl.</text>
<line x1="341.95" y1="205.50" x2="341.95" y2="209.10" stroke="#000" stroke-width="1.1"/>
<text transform="translate(341.95,217.90) scale(1.0,1.12)" font-size="7.7" font-weight="bold" text-anchor="middle" fill="#000" >FSK</text>
<line x1="365.20" y1="205.50" x2="365.20" y2="209.10" stroke="#000" stroke-width="1.1"/>
<text transform="translate(365.20,217.90) scale(1.0,1.12)" font-size="7.7" font-weight="bold" text-anchor="middle" fill="#000" >KP-5</text>
<line x1="388.45" y1="205.50" x2="388.45" y2="209.10" stroke="#000" stroke-width="1.1"/>
<text transform="translate(388.45,217.90) scale(1.0,1.12)" font-size="7.7" font-weight="bold" text-anchor="middle" fill="#000" >KP-12</text>
<line x1="411.70" y1="205.50" x2="411.70" y2="209.10" stroke="#000" stroke-width="1.1"/>
<text transform="translate(411.70,217.90) scale(1.0,1.12)" font-size="7.7" font-weight="bold" text-anchor="middle" fill="#000" >KP-10</text>
<line x1="434.95" y1="205.50" x2="434.95" y2="209.10" stroke="#000" stroke-width="1.1"/>
<text transform="translate(434.95,217.90) scale(1.0,1.12)" font-size="7.7" font-weight="bold" text-anchor="middle" fill="#000" >KP-1</text>
<line x1="458.20" y1="205.50" x2="458.20" y2="209.10" stroke="#000" stroke-width="1.1"/>
<text transform="translate(458.20,217.90) scale(1.0,1.12)" font-size="7.7" font-weight="bold" text-anchor="middle" fill="#000" >KP-3</text>
<line x1="481.45" y1="205.50" x2="481.45" y2="209.10" stroke="#000" stroke-width="1.1"/>
<text transform="translate(481.45,217.90) scale(1.0,1.12)" font-size="7.7" font-weight="bold" text-anchor="middle" fill="#000" >KP-11</text>
<line x1="504.70" y1="205.50" x2="504.70" y2="209.10" stroke="#000" stroke-width="1.1"/>
<text transform="translate(504.70,217.90) scale(1.0,1.12)" font-size="7.7" font-weight="bold" text-anchor="middle" fill="#000" >KP-2</text>
<line x1="527.95" y1="205.50" x2="527.95" y2="209.10" stroke="#000" stroke-width="1.1"/>
<text transform="translate(527.95,217.90) scale(1.0,1.12)" font-size="7.7" font-weight="bold" text-anchor="middle" fill="#000" >KP-13</text>
<line x1="551.20" y1="205.50" x2="551.20" y2="209.10" stroke="#000" stroke-width="1.1"/>
<text transform="translate(550.90,217.90) scale(1.0,1.12)" font-size="7.7" font-weight="bold" text-anchor="middle" fill="#000" >KP-4</text>
<line x1="574.45" y1="205.50" x2="574.45" y2="209.10" stroke="#000" stroke-width="1.1"/>
<text transform="translate(573.85,217.90) scale(1.0,1.12)" font-size="7.7" font-weight="bold" text-anchor="middle" fill="#000" >KP-8</text>
<line x1="597.70" y1="205.50" x2="597.70" y2="209.10" stroke="#000" stroke-width="1.1"/>
<text transform="translate(596.40,217.90) scale(1.0,1.12)" font-size="7.7" font-weight="bold" text-anchor="middle" fill="#000" >KP-6</text>
<text transform="translate(596.10,228.00) scale(1.0,1.12)" font-size="7.7" font-weight="bold" text-anchor="middle" fill="#000" >(TMF)</text>
<line x1="620.95" y1="205.50" x2="620.95" y2="209.10" stroke="#000" stroke-width="1.1"/>
<text transform="translate(619.65,217.90) scale(1.0,1.12)" font-size="7.7" font-weight="bold" text-anchor="middle" fill="#000" >KP-7</text>
<text transform="translate(619.35,228.00) scale(1.0,1.12)" font-size="7.7" font-weight="bold" text-anchor="middle" fill="#000" >(DMF)</text>
<line x1="644.20" y1="205.50" x2="644.20" y2="209.10" stroke="#000" stroke-width="1.1"/>
<text transform="translate(642.80,217.90) scale(1.0,1.12)" font-size="7.7" font-weight="bold" text-anchor="middle" fill="#000" >KP-9</text>
<text transform="translate(642.50,228.00) scale(1.0,1.12)" font-size="7.7" font-weight="bold" text-anchor="middle" fill="#000" >(PMF)</text>
<text x="460.80" y="117.30" font-size="9" font-weight="bold" fill="#000" >B16F10</text>
<text x="477.30" y="238.60" font-size="7.95" font-weight="bold" text-anchor="middle" fill="#000"><tspan font-style="italic">O</tspan>-methylated flavonoids from <tspan font-style="italic">K. parviflora</tspan></text>
<text transform="translate(281.00,157.60) rotate(-90)" font-size="9.2" font-weight="bold" text-anchor="middle" fill="#000">% Melanin content</text>
<circle cx="507.7" cy="173.3" r="0.85" fill="#111"/>
<text x="527.65" y="163.50" font-size="6.8" font-weight="bold" text-anchor="middle" fill="#111" >*</text>
<text x="550.90" y="160.10" font-size="6.8" font-weight="bold" text-anchor="middle" fill="#111" >**</text>
<text x="574.15" y="155.10" font-size="6.8" font-weight="bold" text-anchor="middle" fill="#111" >***</text>
<text x="597.40" y="143.50" font-size="6.8" font-weight="bold" text-anchor="middle" fill="#111" >****</text>
<text x="620.65" y="135.70" font-size="6.8" font-weight="bold" text-anchor="middle" fill="#111" >****</text>
<text x="643.90" y="126.70" font-size="6.8" font-weight="bold" text-anchor="middle" fill="#111" >****</text>
<rect x="310.45" y="322.20" width="15.5" height="38.30" fill="#000"/>
<line x1="341.43" y1="276.10" x2="341.43" y2="272.60" stroke="#4a4a4a" stroke-width="0.85"/>
<line x1="337.63" y1="272.60" x2="345.23" y2="272.60" stroke="#4a4a4a" stroke-width="0.85"/>
<rect x="333.68" y="276.10" width="15.5" height="84.40" fill="#91c0fa"/>
<line x1="364.66" y1="325.20" x2="364.66" y2="321.80" stroke="#4a4a4a" stroke-width="0.85"/>
<line x1="360.86" y1="321.80" x2="368.46" y2="321.80" stroke="#4a4a4a" stroke-width="0.85"/>
<rect x="356.91" y="325.20" width="15.5" height="35.30" fill="#000"/>
<line x1="387.89" y1="320.10" x2="387.89" y2="318.70" stroke="#4a4a4a" stroke-width="0.85"/>
<line x1="384.09" y1="318.70" x2="391.69" y2="318.70" stroke="#4a4a4a" stroke-width="0.85"/>
<rect x="380.14" y="320.10" width="15.5" height="40.40" fill="#000"/>
<line x1="411.12" y1="320.10" x2="411.12" y2="318.20" stroke="#4a4a4a" stroke-width="0.85"/>
<line x1="407.32" y1="318.20" x2="414.92" y2="318.20" stroke="#4a4a4a" stroke-width="0.85"/>
<rect x="403.37" y="320.10" width="15.5" height="40.40" fill="#000"/>
<line x1="434.35" y1="319.80" x2="434.35" y2="316.30" stroke="#4a4a4a" stroke-width="0.85"/>
<line x1="430.55" y1="316.30" x2="438.15" y2="316.30" stroke="#4a4a4a" stroke-width="0.85"/>
<rect x="426.60" y="319.80" width="15.5" height="40.70" fill="#000"/>
<line x1="457.58" y1="318.90" x2="457.58" y2="315.40" stroke="#4a4a4a" stroke-width="0.85"/>
<line x1="453.78" y1="315.40" x2="461.38" y2="315.40" stroke="#4a4a4a" stroke-width="0.85"/>
<rect x="449.83" y="318.90" width="15.5" height="41.60" fill="#000"/>
<line x1="480.81" y1="318.00" x2="480.81" y2="314.50" stroke="#4a4a4a" stroke-width="0.85"/>
<line x1="477.01" y1="314.50" x2="484.61" y2="314.50" stroke="#4a4a4a" stroke-width="0.85"/>
<rect x="473.06" y="318.00" width="15.5" height="42.50" fill="#000"/>
<line x1="504.04" y1="316.60" x2="504.04" y2="312.80" stroke="#4a4a4a" stroke-width="0.85"/>
<line x1="500.24" y1="312.80" x2="507.84" y2="312.80" stroke="#4a4a4a" stroke-width="0.85"/>
<rect x="496.29" y="316.60" width="15.5" height="43.90" fill="#000"/>
<line x1="527.27" y1="315.40" x2="527.27" y2="310.70" stroke="#4a4a4a" stroke-width="0.85"/>
<line x1="523.47" y1="310.70" x2="531.07" y2="310.70" stroke="#4a4a4a" stroke-width="0.85"/>
<rect x="519.52" y="315.40" width="15.5" height="45.10" fill="#000"/>
<line x1="550.50" y1="314.20" x2="550.50" y2="307.20" stroke="#4a4a4a" stroke-width="0.85"/>
<line x1="546.70" y1="307.20" x2="554.30" y2="307.20" stroke="#4a4a4a" stroke-width="0.85"/>
<rect x="542.75" y="314.20" width="15.5" height="46.30" fill="#000"/>
<line x1="573.73" y1="308.20" x2="573.73" y2="298.30" stroke="#4a4a4a" stroke-width="0.85"/>
<line x1="569.93" y1="298.30" x2="577.53" y2="298.30" stroke="#4a4a4a" stroke-width="0.85"/>
<rect x="565.98" y="308.20" width="15.5" height="52.30" fill="#000"/>
<line x1="596.96" y1="295.10" x2="596.96" y2="292.30" stroke="#4a4a4a" stroke-width="0.85"/>
<line x1="593.16" y1="292.30" x2="600.76" y2="292.30" stroke="#4a4a4a" stroke-width="0.85"/>
<rect x="589.21" y="295.10" width="15.5" height="65.40" fill="#ff0000"/>
<line x1="620.19" y1="288.30" x2="620.19" y2="286.40" stroke="#4a4a4a" stroke-width="0.85"/>
<line x1="616.39" y1="286.40" x2="623.99" y2="286.40" stroke="#4a4a4a" stroke-width="0.85"/>
<rect x="612.44" y="288.30" width="15.5" height="72.20" fill="#ff0000"/>
<line x1="643.42" y1="278.80" x2="643.42" y2="278.20" stroke="#4a4a4a" stroke-width="0.85"/>
<line x1="639.62" y1="278.20" x2="647.22" y2="278.20" stroke="#4a4a4a" stroke-width="0.85"/>
<rect x="635.67" y="278.80" width="15.5" height="81.70" fill="#ff0000"/>
<line x1="303.10" y1="361.15" x2="303.10" y2="264.80" stroke="#000" stroke-width="1.3"/>
<line x1="298.70" y1="360.50" x2="659.92" y2="360.50" stroke="#000" stroke-width="1.3"/>
<line x1="298.70" y1="360.50" x2="303.10" y2="360.50" stroke="#000" stroke-width="1.3"/>
<text x="297.50" y="362.80" font-size="7.1" font-weight="bold" text-anchor="end" fill="#000" >0</text>
<line x1="298.70" y1="341.46" x2="303.10" y2="341.46" stroke="#000" stroke-width="1.3"/>
<text x="297.50" y="343.76" font-size="7.1" font-weight="bold" text-anchor="end" fill="#000" >50</text>
<line x1="298.70" y1="322.42" x2="303.10" y2="322.42" stroke="#000" stroke-width="1.3"/>
<text x="297.50" y="324.72" font-size="7.1" font-weight="bold" text-anchor="end" fill="#000" >100</text>
<line x1="298.70" y1="303.38" x2="303.10" y2="303.38" stroke="#000" stroke-width="1.3"/>
<text x="297.50" y="305.68" font-size="7.1" font-weight="bold" text-anchor="end" fill="#000" >150</text>
<line x1="298.70" y1="284.34" x2="303.10" y2="284.34" stroke="#000" stroke-width="1.3"/>
<text x="297.50" y="286.64" font-size="7.1" font-weight="bold" text-anchor="end" fill="#000" >200</text>
<line x1="298.70" y1="265.30" x2="303.10" y2="265.30" stroke="#000" stroke-width="1.3"/>
<text x="297.50" y="267.60" font-size="7.1" font-weight="bold" text-anchor="end" fill="#000" >250</text>
<line x1="318.20" y1="360.50" x2="318.20" y2="364.10" stroke="#000" stroke-width="1.1"/>
<text transform="translate(318.20,372.90) scale(1.0,1.12)" font-size="7.7" font-weight="bold" text-anchor="middle" fill="#000" >Ctrl.</text>
<line x1="341.43" y1="360.50" x2="341.43" y2="364.10" stroke="#000" stroke-width="1.1"/>
<text transform="translate(341.43,372.90) scale(1.0,1.12)" font-size="7.7" font-weight="bold" text-anchor="middle" fill="#000" >FSK</text>
<line x1="364.66" y1="360.50" x2="364.66" y2="364.10" stroke="#000" stroke-width="1.1"/>
<text transform="translate(364.66,372.90) scale(1.0,1.12)" font-size="7.7" font-weight="bold" text-anchor="middle" fill="#000" >KP-10</text>
<line x1="387.89" y1="360.50" x2="387.89" y2="364.10" stroke="#000" stroke-width="1.1"/>
<text transform="translate(387.89,372.90) scale(1.0,1.12)" font-size="7.7" font-weight="bold" text-anchor="middle" fill="#000" >KP-5</text>
<line x1="411.12" y1="360.50" x2="411.12" y2="364.10" stroke="#000" stroke-width="1.1"/>
<text transform="translate(411.12,372.90) scale(1.0,1.12)" font-size="7.7" font-weight="bold" text-anchor="middle" fill="#000" >KP-4</text>
<line x1="434.35" y1="360.50" x2="434.35" y2="364.10" stroke="#000" stroke-width="1.1"/>
<text transform="translate(434.35,372.90) scale(1.0,1.12)" font-size="7.7" font-weight="bold" text-anchor="middle" fill="#000" >KP-3</text>
<line x1="457.58" y1="360.50" x2="457.58" y2="364.10" stroke="#000" stroke-width="1.1"/>
<text transform="translate(457.58,372.90) scale(1.0,1.12)" font-size="7.7" font-weight="bold" text-anchor="middle" fill="#000" >KP-12</text>
<line x1="480.81" y1="360.50" x2="480.81" y2="364.10" stroke="#000" stroke-width="1.1"/>
<text transform="translate(480.81,372.90) scale(1.0,1.12)" font-size="7.7" font-weight="bold" text-anchor="middle" fill="#000" >KP-2</text>
<line x1="504.04" y1="360.50" x2="504.04" y2="364.10" stroke="#000" stroke-width="1.1"/>
<text transform="translate(504.04,372.90) scale(1.0,1.12)" font-size="7.7" font-weight="bold" text-anchor="middle" fill="#000" >KP-1</text>
<line x1="527.27" y1="360.50" x2="527.27" y2="364.10" stroke="#000" stroke-width="1.1"/>
<text transform="translate(527.27,372.90) scale(1.0,1.12)" font-size="7.7" font-weight="bold" text-anchor="middle" fill="#000" >KP-11</text>
<line x1="550.50" y1="360.50" x2="550.50" y2="364.10" stroke="#000" stroke-width="1.1"/>
<text transform="translate(550.20,372.90) scale(1.0,1.12)" font-size="7.7" font-weight="bold" text-anchor="middle" fill="#000" >KP-13</text>
<line x1="573.73" y1="360.50" x2="573.73" y2="364.10" stroke="#000" stroke-width="1.1"/>
<text transform="translate(573.13,372.90) scale(1.0,1.12)" font-size="7.7" font-weight="bold" text-anchor="middle" fill="#000" >KP-8</text>
<line x1="596.96" y1="360.50" x2="596.96" y2="364.10" stroke="#000" stroke-width="1.1"/>
<text transform="translate(595.66,372.90) scale(1.0,1.12)" font-size="7.7" font-weight="bold" text-anchor="middle" fill="#000" >KP-6</text>
<text transform="translate(595.36,383.00) scale(1.0,1.12)" font-size="7.7" font-weight="bold" text-anchor="middle" fill="#000" >(TMF)</text>
<line x1="620.19" y1="360.50" x2="620.19" y2="364.10" stroke="#000" stroke-width="1.1"/>
<text transform="translate(618.89,372.90) scale(1.0,1.12)" font-size="7.7" font-weight="bold" text-anchor="middle" fill="#000" >KP-7</text>
<text transform="translate(618.59,383.00) scale(1.0,1.12)" font-size="7.7" font-weight="bold" text-anchor="middle" fill="#000" >(DMF)</text>
<line x1="643.42" y1="360.50" x2="643.42" y2="364.10" stroke="#000" stroke-width="1.1"/>
<text transform="translate(642.02,372.90) scale(1.0,1.12)" font-size="7.7" font-weight="bold" text-anchor="middle" fill="#000" >KP-9</text>
<text transform="translate(641.72,383.00) scale(1.0,1.12)" font-size="7.7" font-weight="bold" text-anchor="middle" fill="#000" >(PMF)</text>
<text x="462.00" y="272.00" font-size="9" font-weight="bold" fill="#000" >MNT-1</text>
<text x="477.30" y="393.60" font-size="7.95" font-weight="bold" text-anchor="middle" fill="#000"><tspan font-style="italic">O</tspan>-methylated flavonoids from <tspan font-style="italic">K. parviflora</tspan></text>
<text transform="translate(280.30,312.40) rotate(-90)" font-size="9.2" font-weight="bold" text-anchor="middle" fill="#000">% Melanin content</text>
<text x="573.43" y="292.00" font-size="6.8" font-weight="bold" text-anchor="middle" fill="#111" >**</text>
<text x="596.66" y="285.60" font-size="6.8" font-weight="bold" text-anchor="middle" fill="#111" >****</text>
<text x="619.89" y="280.20" font-size="6.8" font-weight="bold" text-anchor="middle" fill="#111" >****</text>
<text x="643.12" y="271.30" font-size="6.8" font-weight="bold" text-anchor="middle" fill="#111" >****</text>
</svg>
</body></html>
